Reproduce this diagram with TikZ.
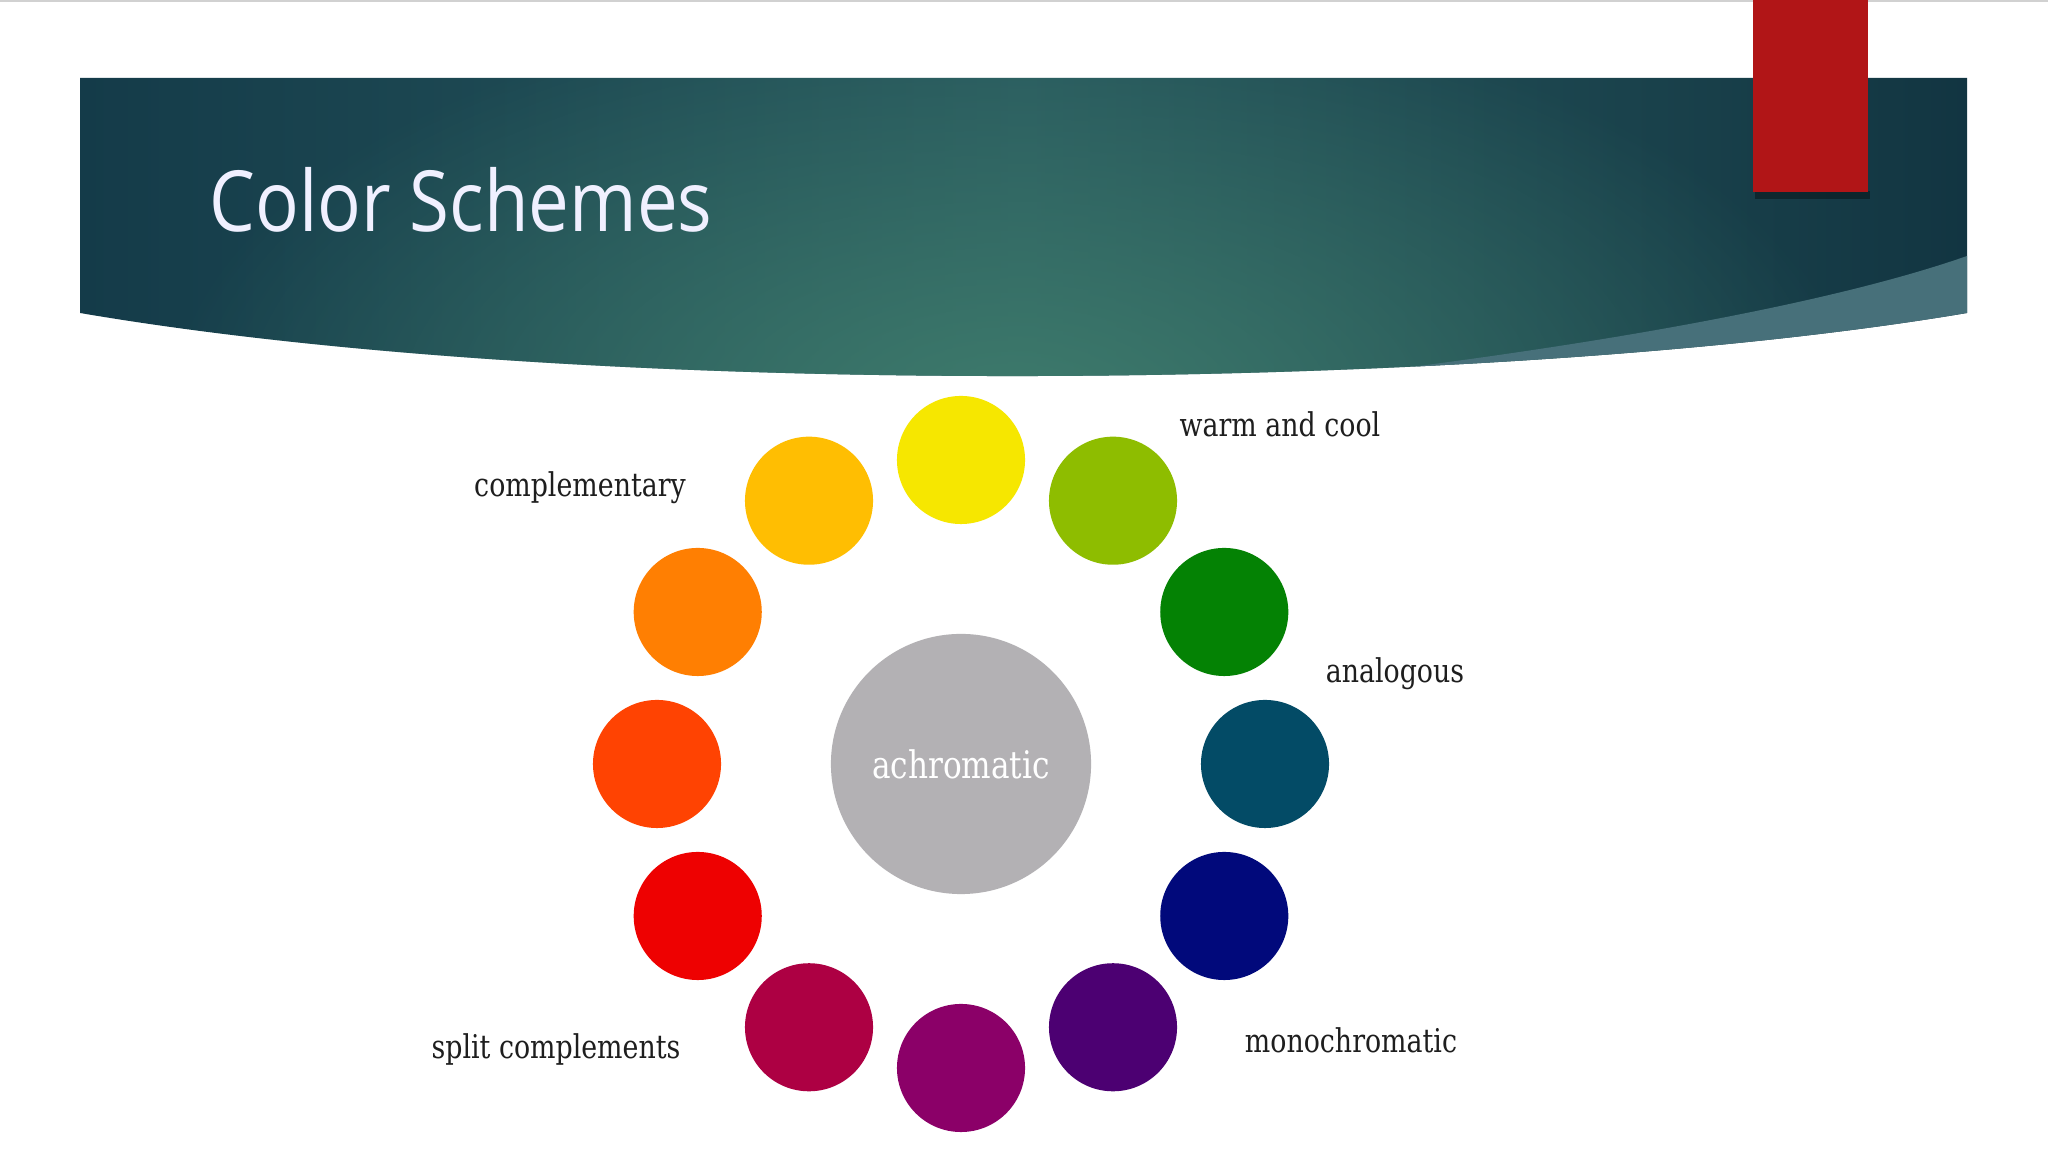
\documentclass[tikz,border=0pt]{standalone}
\usepackage{fontspec}
\setmainfont{DejaVu Serif}[FakeStretch=0.82]
\newfontfamily\titlefont{Open Sans}[FakeStretch=0.86]
\usetikzlibrary{fadings}
\definecolor{bandark}{HTML}{143B49}
\definecolor{banmid}{HTML}{28595E}
\definecolor{banglow}{HTML}{3E7B6C}
\definecolor{wedge}{HTML}{47707A}
\definecolor{tabred}{HTML}{B11517}
\definecolor{hubgray}{HTML}{B3B1B4}
\definecolor{tagink}{HTML}{1E1E1E}
\definecolor{cyellow}{HTML}{F6E700}
\definecolor{clime}{HTML}{8EBD00}
\definecolor{cgreen}{HTML}{048204}
\definecolor{cteal}{HTML}{034B66}
\definecolor{cnavy}{HTML}{01097B}
\definecolor{cpurple}{HTML}{4C0072}
\definecolor{cmagenta}{HTML}{8B0068}
\definecolor{ccrimson}{HTML}{AD0043}
\definecolor{cred}{HTML}{EE0101}
\definecolor{cvermil}{HTML}{FF4302}
\definecolor{corange}{HTML}{FF7F02}
\definecolor{camber}{HTML}{FFBE02}
\tikzfading[name=glowfade, inner color=transparent!0, outer color=transparent!100]
\tikzset{
  swatch/.style = {circle, inner sep=0pt, minimum size=1.28cm},
  hub/.style    = {circle, fill=hubgray, inner sep=0pt, minimum size=2.6cm,
                   text=white, font=\fontsize{10.8}{13}\selectfont},
  tag/.style    = {text=tagink, font=\fontsize{9.3}{11}\selectfont},
  title/.style  = {text=white!94!blue, anchor=base west, inner sep=0pt,
                   font=\titlefont\fontsize{24}{28}\selectfont},
}

\begin{document}
\begin{tikzpicture}[x=0.01cm,y=0.01cm]
  \useasboundingbox (0,0) rectangle (2048,1152);
  \fill[white] (0,0) rectangle (2048,1152);
  \draw[black!18, line width=0.03cm] (0,1151) -- (2048,1151);
  \begin{scope}
    \clip (80,1074) -- (1967,1074) -- (1967,839)
      .. controls (1500,760) and (600,750) .. (80,839) -- cycle;
    \shade[left color=bandark, right color=bandark!90!black, middle color=banmid]
      (80,700) rectangle (1967,1074);
    \fill[banglow, path fading=glowfade] (1010,740) ellipse (850 and 420);
    \fill[wedge] (1200,760) -- (1380,781)
      .. controls (1650,815) and (1850,855) .. (1967,896)
      -- (2000,896) -- (2000,700) -- (1200,700) -- cycle;
  \end{scope}
  \fill[black, opacity=0.35] (1755,953) rectangle (1870,961);
  \fill[tabred] (1753,960) rectangle (1868,1152);
  \node[title] (head) at (209,920) {Color Schemes};

  \node[hub] (wheel) at (961,388) {achromatic};
  \foreach \ang/\col/\nm in {90/cyellow/yellow, 60/clime/lime, 30/cgreen/green,
      0/cteal/teal, -30/cnavy/navy, -60/cpurple/purple, -90/cmagenta/magenta,
      -120/ccrimson/crimson, -150/cred/red, 180/cvermil/vermil,
      150/corange/orange, 120/camber/amber}
    \node[swatch, fill=\col] (\nm) at ([shift={(\ang:304)}]wheel.center) {};

  \node[tag] (warmcool) at (1280,728) {warm and cool};
  \node[tag] (compl) at (580,664) {complementary};
  \node[tag] (analog) at (1395,478) {analogous};
  \node[tag] (mono) at (1351,112) {monochromatic};
  \node[tag] (split) at (556,103) {split complements};
\end{tikzpicture}
\end{document}
